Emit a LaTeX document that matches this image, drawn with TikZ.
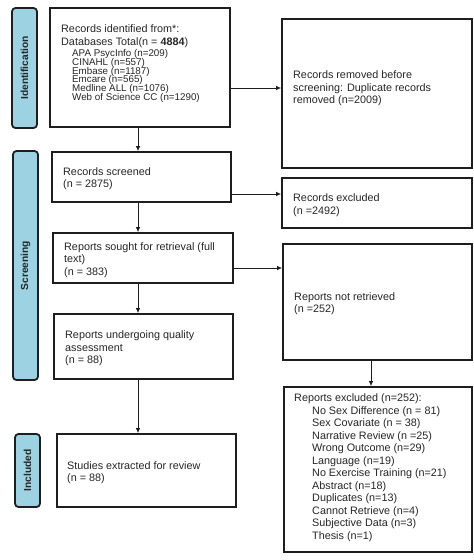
\documentclass[tikz,border=0pt]{standalone}
\usepackage{fontspec}
\setmainfont{Liberation Sans}
\usetikzlibrary{arrows.meta}
\definecolor{sidefill}{HTML}{9DD2E2}
\definecolor{edge}{HTML}{1E1E1E}
\tikzset{
  box/.style={draw=edge, line width=1.8pt, fill=white, inner sep=0pt},
  txt/.style={anchor=west, align=left, inner sep=0pt,
    font=\fontsize{10.8}{12.5}\selectfont, text=black!85},
  side/.style={draw=edge, line width=1.8pt, fill=sidefill, rounded corners=3.5pt, rotate=90,
    font=\fontsize{10.2}{12}\selectfont\bfseries, text=black!85, inner sep=0pt},
  arr/.style={-{Latex[length=5pt,width=4.5pt]}, line width=0.7pt, draw=edge},
}
\newcommand{\subln}[1]{\hspace*{11pt}{\fontsize{9.8}{8.8}\selectfont #1}}
\begin{document}
\begin{tikzpicture}[x=1pt,y=-1pt]
\useasboundingbox (0,0) rectangle (474,560);
% side labels
\node[side, minimum width=120pt, minimum height=25pt] (sid) at (24.5,68) {Identification};
\node[side, minimum width=229pt, minimum height=25pt] (ssc) at (25.5,265.5) {Screening};
\node[side, minimum width=73pt, minimum height=25pt] (sin) at (27.5,470.5) {Included};
% boxes
\node[box, minimum width=180pt, minimum height=119pt] (b1) at (140,67.5) {};
\node[box, minimum width=190pt, minimum height=149pt] (rem) at (377,93.5) {};
\node[box, minimum width=179pt, minimum height=50pt] (scr) at (141.5,177) {};
\node[box, minimum width=190pt, minimum height=50pt] (exc) at (377,203) {};
\node[box, minimum width=180pt, minimum height=50pt] (sought) at (143,258) {};
\node[box, minimum width=189pt, minimum height=116pt] (notret) at (377.5,302) {};
\node[box, minimum width=179pt, minimum height=65pt] (qual) at (143.5,346.5) {};
\node[box, minimum width=179pt, minimum height=73pt] (stud) at (146.5,470.5) {};
\node[box, minimum width=188pt, minimum height=165pt] (excl) at (378,469.5) {};
% texts
\node[txt] (b1t) at (61,63.5)
  {Records identified from*:\\[0.5pt]
   Databases Total(n = \textbf{4884})\\[-1.2pt]
   \subln{APA PsycInfo (n=209)}\\[-3.7pt]
   \subln{CINAHL (n=557)}\\[-3.7pt]
   \subln{Embase (n=1187)}\\[-3.7pt]
   \subln{Emcare (n=565)}\\[-3.7pt]
   \subln{Medline ALL (n=1076)}\\[-3.7pt]
   \subln{Web of Science CC (n=1290)}};
\node[txt] (remt) at (293,88.5)
  {Records removed before\\screening: Duplicate records\\removed (n=2009)};
\node[txt] (scrt) at (63,178.5) {Records screened\\[-1pt](n = 2875)};
\node[txt] (exct) at (293,205) {Records excluded\\[1pt](n =2492)};
\node[txt] (soughtt) at (64,260) {Reports sought for retrieval (full\\text)\\(n = 383)};
\node[txt] (notrett) at (294,303.5) {Reports not retrieved\\(n =252)};
\node[txt] (qualt) at (65,348.5) {Reports undergoing quality\\assessment\\(n = 88)};
\node[txt] (studt) at (67,472.5) {Studies extracted for review\\(n = 88)};
\node[txt] (exclt) at (294,467.5)
  {Reports excluded (n=252):\\
   \hspace*{18pt}No Sex Difference (n = 81)\\
   \hspace*{18pt}Sex Covariate (n = 38)\\
   \hspace*{18pt}Narrative Review (n =25)\\
   \hspace*{18pt}Wrong Outcome (n=29)\\
   \hspace*{18pt}Language (n=19)\\
   \hspace*{18pt}No Exercise Training (n=21)\\
   \hspace*{18pt}Abstract (n=18)\\
   \hspace*{18pt}Duplicates (n=13)\\
   \hspace*{18pt}Cannot Retrieve (n=4)\\
   \hspace*{18pt}Subjective Data (n=3)\\
   \hspace*{18pt}Thesis (n=1)};
% connector guides
\coordinate (xl) at (138,0);
\coordinate (xr) at (371,0);
\coordinate (y1) at (0,88);
\coordinate (y2) at (0,194);
\coordinate (y3) at (0,268);
% connectors
\draw[arr] (b1.south -| xl) -- (scr.north -| xl);
\draw[arr] (scr.south -| xl) -- (sought.north -| xl);
\draw[arr] (sought.south -| xl) -- (qual.north -| xl);
\draw[arr] (qual.south -| xl) -- (stud.north -| xl);
\draw[arr] (b1.east |- y1) -- (rem.west |- y1);
\draw[arr] (scr.east |- y2) -- (exc.west |- y2);
\draw[arr] (sought.east |- y3) -- (notret.west |- y3);
\draw[arr] (notret.south -| xr) -- (excl.north -| xr);
\end{tikzpicture}
\end{document}
